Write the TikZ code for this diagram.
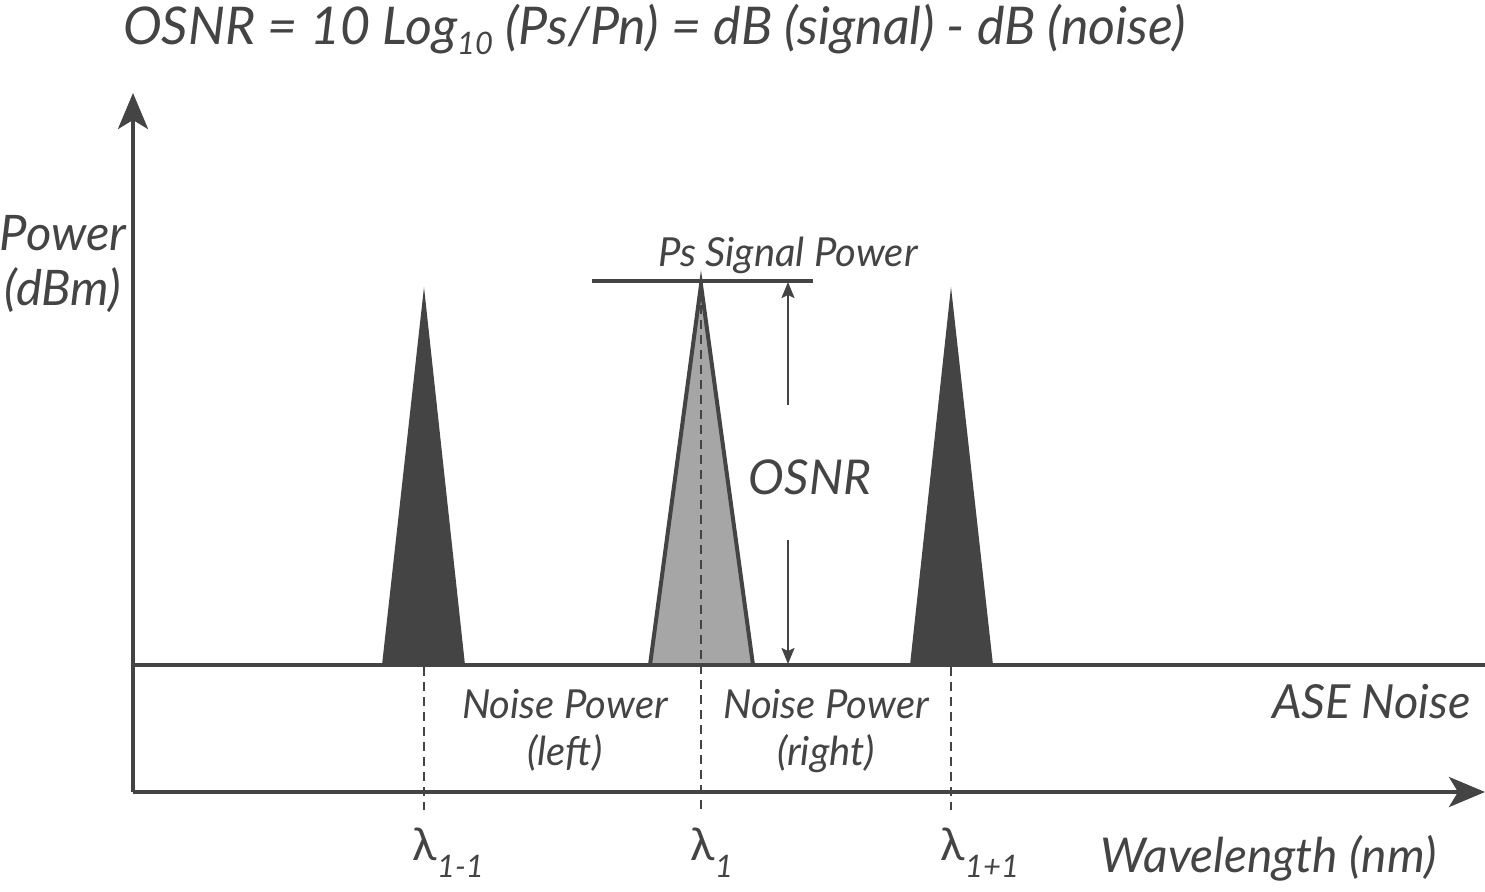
\documentclass[tikz,border=0pt]{standalone}
\usepackage{fontspec}
\setmainfont{Lato}
\usetikzlibrary{arrows.meta}
\definecolor{ink}{HTML}{444444}
\definecolor{peakgray}{HTML}{A6A6A6}
\tikzset{
  axis/.style={line width=4pt, draw=ink, -{Stealth[length=36pt,width=30pt,inset=9pt]}},
  thick line/.style={line width=4pt, draw=ink},
  dashline/.style={line width=1.8pt, draw=ink, dash pattern=on 9pt off 6pt},
  osnrarrow/.style={line width=2pt, draw=ink, -{Stealth[length=16pt,width=13pt,inset=3pt]}},
  lbl/.style={text=ink, font=\itshape, inner sep=0pt, anchor=base},
}
\newcommand{\fs}[1]{\fontsize{#1}{#1}\selectfont}
\begin{document}
\begin{tikzpicture}[x=1pt,y=-1pt]
\useasboundingbox (0,0) rectangle (1485,891);
% axes
\coordinate (origin) at (133,792);
\coordinate (ytip) at (133,93);
\coordinate (xtip) at (1485,792);
\draw[axis] (origin) -- (ytip);
\draw[axis] (origin) -- (xtip);
% noise floor
\coordinate (nl) at (133,665);
\coordinate (nr) at (1485,665);
% peaks
\fill[ink] (382,665) -- (424,287) -- (465,665) -- cycle;
\fill[ink] (910,665) -- (951,287) -- (993,665) -- cycle;
\draw[line width=4pt, draw=ink, fill=peakgray, line join=miter] (650,665) -- (701,285) -- (753,665);
\draw[thick line] (nl) -- (nr);
% dashed lines
\draw[dashline] (424,667) -- (424,810);
\draw[dashline] (701,305) -- (701,810);
\draw[dashline] (951,667) -- (951,810);
% Ps line
\coordinate (psl) at (592,281);
\coordinate (psr) at (813,281);
\draw[thick line] (psl) -- (psr);
% OSNR arrows
\coordinate (oa1) at (788,405);
\coordinate (oa2) at (788,540);
\draw[osnrarrow] (oa1) -- (788,282);
\draw[osnrarrow] (oa2) -- (788,664);
% texts
\node[lbl, anchor=base west] (title) at (123,45) {\fs{52}OSNR = 10 Log{\fs{31}\raisebox{-10pt}{10}} (Ps/Pn) = dB (signal) - dB (noise)};
\node[lbl, anchor=base] (power) at (63,250) {\fs{49}Power};
\node[lbl, anchor=base] (dbm) at (63,305) {\fs{49}(dBm)};
\node[lbl, anchor=base] (ps) at (788,266) {\fs{40}Ps Signal Power};
\node[lbl, anchor=base] (osnr) at (810,494) {\fs{48}OSNR};
\node[lbl, anchor=base] (npl1) at (565,718) {\fs{40}Noise Power};
\node[lbl, anchor=base] (npl2) at (565,765) {\fs{40}(left)};
\node[lbl, anchor=base] (npr1) at (826,718) {\fs{40}Noise Power};
\node[lbl, anchor=base] (npr2) at (826,765) {\fs{40}(right)};
\node[lbl, anchor=base east] (ase) at (1471,718) {\fs{47}ASE Noise};
\node[lbl, anchor=base east] (wl) at (1437,872) {\fs{48}Wavelength (nm)};
\node[lbl, font=\upshape, anchor=base] (l1) at (425,860) {\fs{45}λ\rlap{\itshape\fs{31}\raisebox{-17pt}{1-1}}};
\node[lbl, font=\upshape, anchor=base] (l2) at (703,860) {\fs{45}λ\rlap{\itshape\fs{31}\raisebox{-17pt}{1}}};
\node[lbl, font=\upshape, anchor=base] (l3) at (953,860) {\fs{45}λ\rlap{\itshape\fs{31}\raisebox{-17pt}{1+1}}};
\end{tikzpicture}
\end{document}
